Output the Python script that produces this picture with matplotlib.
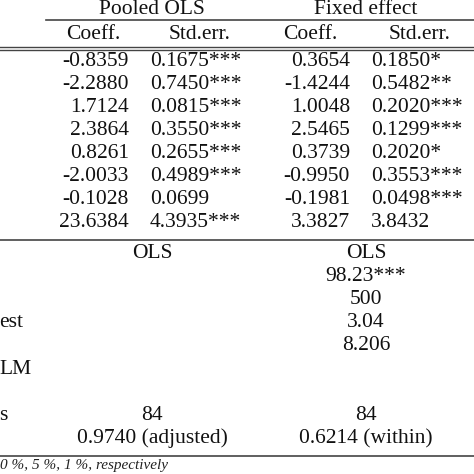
import matplotlib.pyplot as plt

plt.rcParams['font.family'] = ['Liberation Serif', 'DejaVu Serif']

pooled_coef = ['-0.8359', '-2.2880', '1.7124', '2.3864', '0.8261', '-2.0033', '-0.1028', '23.6384']
pooled_se = ['0.1675***', '0.7450***', '0.0815***', '0.3550***', '0.2655***', '0.4989***', '0.0699', '4.3935***']
fe_coef = ['0.3654', '-1.4244', '1.0048', '2.5465', '0.3739', '-0.9950', '-0.1981', '3.3827']
fe_se = ['0.1850*', '0.5482**', '0.2020***', '0.1299***', '0.2020*', '0.3553***', '0.0498***', '3.8432']

# lower block: (left label, pooled value, fixed-effect value)
stats_rows = [
    ('', 'OLS', 'OLS'),
    ('', '', '98.23***'),
    ('', '', '500'),
    ('est', '', '3.04'),
    ('', '', '8.206'),
    ('LM', '', ''),
    ('', '', ''),
    ('s', '84', '84'),
    ('', '0.9740 (adjusted)', '0.6214 (within)'),
]
footnote = '0 %, 5 %, 1 %, respectively'

W = H = 474
fig = plt.figure(figsize=(4.74, 4.74), dpi=100)
ax = fig.add_axes([0, 0, 1, 1])
ax.set_xlim(0, W)
ax.set_ylim(H, 0)
ax.axis('off')

fs = 15.5
def t(x, y, s, ha='center', **kw):
    ax.text(x, y, s, ha=ha, va='center', fontsize=fs, color='#111111', **kw)

t(152, 9, 'Pooled OLS')
t(366, 9, 'Fixed effect')
ax.plot([46, 474], [20, 20], color='#444444', lw=1.2)
for x, s in [(93, 'Coeff.'), (200, 'Std.err.'), (310, 'Coeff.'), (420, 'Std.err.')]:
    t(x, 34, s)
ax.plot([0, 474], [47, 47], color='#444444', lw=1.0)
ax.plot([0, 474], [50, 50], color='#444444', lw=1.0)

for i in range(len(pooled_coef)):
    y = 61 + i * 23.1
    t(129, y, pooled_coef[i], ha='right')
    t(150, y, pooled_se[i], ha='left')
    t(350, y, fe_coef[i], ha='right')
    t(371, y, fe_se[i], ha='left')

ax.plot([0, 474], [240, 240], color='#444444', lw=1.2)
for i, (lab, a, b) in enumerate(stats_rows):
    y = 253 + i * 23.2
    if lab:
        t(-1, y, lab, ha='left')
    if a:
        t(152, y, a)
    if b:
        t(366, y, b)

ax.plot([0, 474], [456, 456], color='#444444', lw=1.2)
ax.text(0, 466, footnote, ha='left', va='center', fontsize=11, style='italic', color='#222222')

fig.savefig('out.png', dpi=100, facecolor='white')
